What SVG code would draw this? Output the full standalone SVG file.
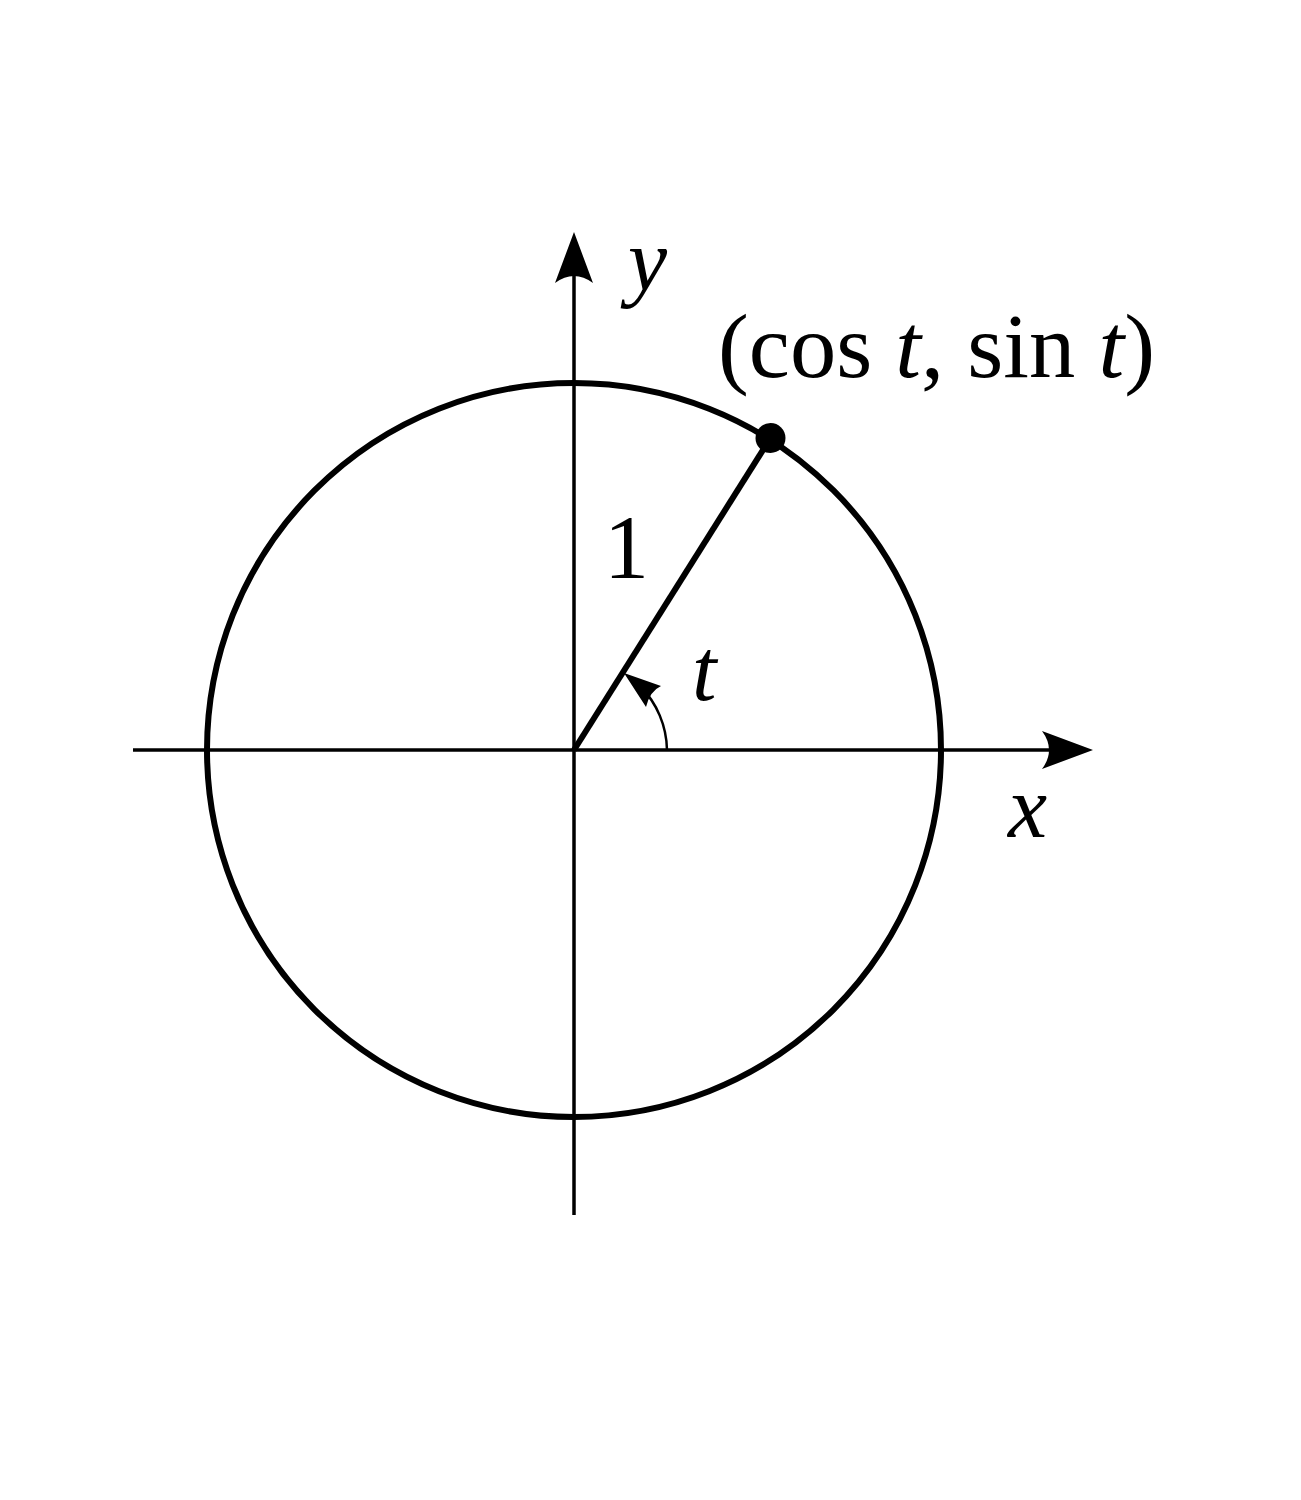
<svg xmlns="http://www.w3.org/2000/svg" width="1301" height="1500" viewBox="0 0 1301 1500">
<style>
.ax{stroke:#000;stroke-width:3.5;fill:none}
.thick{stroke:#000;stroke-width:6;fill:none}
.lbl{font-family:"Liberation Serif","DejaVu Serif",serif;fill:#000}
.it{font-style:italic}
</style>
<rect width="1301" height="1500" fill="#fff"/>
<g id="connectors">
<line class="ax" x1="133" y1="750" x2="1060" y2="750"/>
<path d="M1093 750 L1042 731 Q1056 750 1042 769 Z" fill="#000"/>
<line class="ax" x1="574" y1="1215" x2="574" y2="262"/>
<path d="M574 232 L555 283 Q574 269 593 283 Z" fill="#000"/>
<line class="thick" x1="574" y1="750" x2="770.5" y2="438"/>
<path class="ax" style="stroke-width:2.5" d="M667 750 A93 93 0 0 0 640 686"/>
<path d="M624 673 L661 686 Q650 691 646 707 Z" fill="#000"/>
</g>
<g id="circle"><circle class="thick" cx="574" cy="750" r="367"/></g>
<g id="point"><circle cx="770.5" cy="438" r="15" fill="#000"/></g>
<g id="labels">
<text class="lbl it" x="628" y="290" font-size="88">y</text>
<text class="lbl" x="718" y="377" font-size="92" textLength="437" lengthAdjust="spacingAndGlyphs">(cos <tspan class="it">t</tspan>, sin <tspan class="it">t</tspan>)</text>
<text class="lbl" x="604" y="578" font-size="90">1</text>
<text class="lbl it" x="692" y="700" font-size="88">t</text>
<text class="lbl it" x="1008" y="837" font-size="88">x</text>
</g>
</svg>
